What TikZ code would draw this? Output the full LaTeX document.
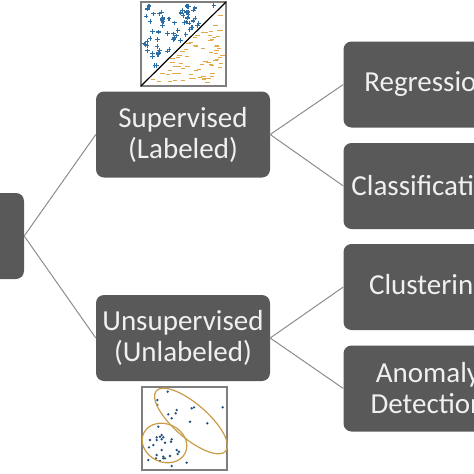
\documentclass[tikz,border=0pt]{standalone}
\usepackage{fontspec}
\setmainfont{Carlito}
\definecolor{boxgray}{HTML}{595959}
\definecolor{linegray}{HTML}{8C8C8C}
\definecolor{framegray}{HTML}{7F7F7F}
\definecolor{ptblue}{HTML}{2E6DA4}
\definecolor{ptorange}{HTML}{E2A848}
\definecolor{dotblue}{HTML}{24507C}
\definecolor{ringgold}{HTML}{C99D48}
\begin{document}
\begin{tikzpicture}[x=1pt,y=-1pt,
  box/.style={draw=none,fill=boxgray,rounded corners=8pt,text=white!94!black,
    font=\fontsize{29}{31}\selectfont,align=center,inner sep=0pt},
  tallbox/.style={box,minimum width=174pt,minimum height=86pt},
  leafbox/.style={box,minimum width=169pt,minimum height=86pt},
  conn/.style={draw=linegray,line width=1pt},
  plotframe/.style={draw=framegray,fill=white,line width=1.5pt},
  bluecross/.style={draw=ptblue,line width=1.2pt},
  orangedash/.style={draw=ptorange,line width=1pt},
  dotpt/.style={fill=dotblue},
  ring/.style={draw=ringgold,line width=1.2pt}]
\path[use as bounding box] (0,0) rectangle (474,474);
\clip (0,0) rectangle (474,474);
\node[tallbox] (root) at (-63,236) {};
\node[tallbox] (sup) at (183,134.5) {Supervised\\(Labeled)};
\node[tallbox] (unsup) at (183,338) {Unsupervised\\(Unlabeled)};
\node[leafbox] (reg) at (428,84.5) {Regression};
\node[leafbox] (cls) at (428,186) {Classification};
\node[leafbox] (clu) at (428,287) {Clustering};
\node[leafbox] (ano) at (428,388.5) {Anomaly\\Detection};
\draw[conn] (sup.west) -- (root.east) -- (unsup.west);
\draw[conn] (reg.west) -- (sup.east) -- (cls.west);
\draw[conn] (clu.west) -- (unsup.east) -- (ano.west);
% labeled data
\draw[plotframe] (141,2) rectangle (226,86);
\pgfmathsetseed{4217}
\foreach \i in {1,...,150}{
  \pgfmathsetmacro{\pu}{rnd}
  \pgfmathsetmacro{\pv}{rnd}
  \pgfmathtruncatemacro{\side}{\pv>\pu+0.05 ? 1 : (\pv<\pu-0.05 ? 2 : 0)}
  \ifnum\side=1
    \draw[bluecross] ({144+\pu*79},{83-\pv*78}) +(-2.2,0) -- +(2.2,0) +(0,-2.2) -- +(0,2.2);
  \fi
  \ifnum\side=2
    \draw[orangedash] ({144+\pu*79},{83-\pv*78}) +(-2.2,0) -- +(2.2,0);
  \fi
}
\draw[line width=1.2pt] (141,86) -- (226,2);
% unlabeled data
\draw[plotframe] (142,387) rectangle (227,470);
\foreach \px/\py in {167.7/391.7,157.3/400,157.3/405,176.7/410,175.7/413.3,168.3/414.3,
  171.7/418.3,191.7/408.3,194/407.3,222.7/407.3,190/421.7,207.3/423.3,
  158.3/426.7,161.7/435,160/436.7,156.7/437.3,163.3/437.3,150/440,156.7/440,
  161.7/439.3,171.7/439.3,171/441.7,165/442.7,153.3/445,149/447.3,161.7/450,
  176.7/450,179/451.7,177.7/454,156.7/455,163.3/456.7,170/456,163.3/458.3,
  165/458.3,156/458.3,160/461,171.7/466,186.7/462.7,148.3/460}
  \fill[dotpt] (\px,\py) circle (1.3pt);
\draw[ring] (191,421) ellipse[x radius=46pt,y radius=17pt,rotate=-41];
\draw[ring] (164.5,443) ellipse[x radius=23pt,y radius=19pt,rotate=-25];
\end{tikzpicture}
\end{document}
